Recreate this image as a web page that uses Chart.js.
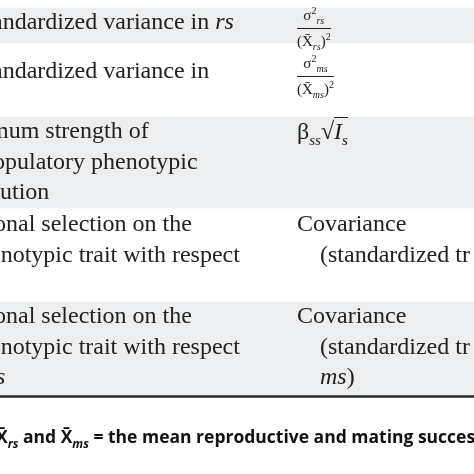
<!DOCTYPE html>
<html>
<head>
<meta charset="utf-8">
<script src="https://cdn.jsdelivr.net/npm/chart.js@4"></script>
<style>
  body { margin: 0; background: #fff; }
  #wrap { position: relative; width: 474px; height: 474px; overflow: hidden; }
  #bands { position: absolute; left: 0; top: 0; }
  .t { position: absolute; font-family: "Liberation Serif", serif; font-size: 24px; color: #222; white-space: nowrap; line-height: 30px; }
  .frac { position: absolute; font-family: "Liberation Serif", serif; font-size: 15px; color: #222; text-align: center; line-height: 15px; }
  .frac .num { border-bottom: 1px solid #222; padding: 0 3px; }
  .foot { position: absolute; left: -4px; top: 424px; font-family: "Open Sans", sans-serif; font-weight: bold; font-size: 17.5px; color: #111; white-space: nowrap; }
</style>
</head>
<body>
<div id="wrap">
  <canvas id="bands" width="474" height="474"></canvas>

  <div class="t" style="left:-8px;top:6px">andardized variance in <i>rs</i></div>
  <div class="t" style="left:-8px;top:55px">andardized variance in</div>
  <div class="t" style="left:-10px;top:115px">mum strength of</div>
  <div class="t" style="left:-7px;top:146px">opulatory phenotypic</div>
  <div class="t" style="left:0px;top:176px">ution</div>
  <div class="t" style="left:-6px;top:208px">onal selection on the</div>
  <div class="t" style="left:-10px;top:239px">enotypic trait with respect</div>
  <div class="t" style="left:-6px;top:300px">onal selection on the</div>
  <div class="t" style="left:-10px;top:331px">enotypic trait with respect</div>
  <div class="t" style="left:-4px;top:361px"><i>s</i></div>

  <div class="frac" style="left:297px;top:3px"><div class="num">σ<sup style="font-size:10px">2</sup><sub style="font-size:10px"><i>rs</i></sub></div><div>(X̄<sub style="font-size:10px"><i>rs</i></sub>)<sup style="font-size:10px">2</sup></div></div>
  <div class="frac" style="left:297px;top:51px"><div class="num">σ<sup style="font-size:10px">2</sup><sub style="font-size:10px"><i>ms</i></sub></div><div>(X̄<sub style="font-size:10px"><i>ms</i></sub>)<sup style="font-size:10px">2</sup></div></div>
  <div class="t" style="left:297px;top:116px">β<sub style="font-size:15px"><i>ss</i></sub>√<span style="border-top:1px solid #222"><i>I<sub style="font-size:15px">s</sub></i></span></div>
  <div class="t" style="left:297px;top:208px">Covariance</div>
  <div class="t" style="left:320px;top:239px">(standardized tr</div>
  <div class="t" style="left:297px;top:300px">Covariance</div>
  <div class="t" style="left:320px;top:331px">(standardized tr</div>
  <div class="t" style="left:320px;top:361px"><i>ms</i>)</div>

  <div class="foot">X̄<sub style="font-size:12px"><i>rs</i></sub> and X̄<sub style="font-size:12px"><i>ms</i></sub> = the mean reproductive and mating succes</div>
</div>
<script>
// row bands (top, bottom) in pixels of the 474px page
const bandTops = [8, 117, 302];
const bandBottoms = [43, 208, 395];
const ruleTop = 395;
const ruleBottom = 397.5;

const datasets = bandTops.map(function(top, i) {
    return {
        data: [[top, bandBottoms[i]]],
        backgroundColor: '#eceeef',
        barPercentage: 1,
        categoryPercentage: 1
    };
});
datasets.push({
    data: [[ruleTop, ruleBottom]],
    backgroundColor: '#2a2a2a',
    barPercentage: 1,
    categoryPercentage: 1
});

new Chart(document.getElementById('bands').getContext('2d'), {
    type: 'bar',
    data: { labels: ['table'], datasets: datasets },
    options: {
        responsive: false,
        animation: false,
        grouped: false,
        layout: { padding: 0 },
        plugins: { legend: { display: false }, tooltip: { enabled: false } },
        scales: {
            x: { display: false },
            y: { display: false, min: 0, max: 474, reverse: true }
        }
    }
});
</script>
</body>
</html>
